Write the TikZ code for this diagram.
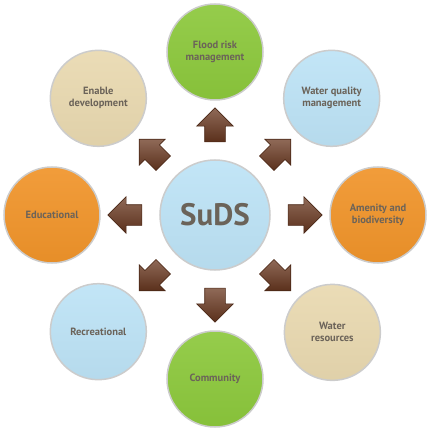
\documentclass[tikz,border=0pt]{standalone}
\usepackage{fontspec}
\setmainfont{PT Sans}
\usetikzlibrary{calc,shapes.arrows}

\definecolor{sudsblue}{HTML}{BDE3F6}
\definecolor{sudsgreen}{HTML}{8CC83C}
\definecolor{sudsorange}{HTML}{F0942A}
\definecolor{sudsbeige}{HTML}{E9D9B0}
\definecolor{sudstext}{HTML}{6B6359}
\definecolor{arrowbrown}{HTML}{6A3820}

\tikzset{
  benefit/.style={circle, minimum size=96pt, inner sep=0pt, align=center,
    draw=gray!40, line width=1.5pt, top color=#1!92!white, bottom color=#1!96!black,
    text=sudstext, font=\bfseries\fontsize{10.5}{12}\selectfont},
  hub/.style={benefit=#1, minimum size=110pt, font=\bfseries\fontsize{31}{31}\selectfont},
  blockarrow/.style={single arrow, draw=arrowbrown!70!black, line width=0.6pt,
    top color=arrowbrown!75!white, bottom color=arrowbrown!85!black,
    text height=20pt, text depth=0pt, text width=0pt, inner sep=0pt,
    minimum height=34pt, single arrow head extend=8pt, single arrow tip angle=90}
}

\begin{document}
\begin{tikzpicture}[x=1pt,y=1pt]

\useasboundingbox (-215,-216) rectangle (216,215);

% centre
\node[hub=sudsblue] (suds) at (0,0) {SuDS};

% benefits
\node[benefit=sudsgreen]  (flood)       at (90:163)  {Flood risk\\management};
\node[benefit=sudsblue]   (quality)     at (45:165)  {Water quality\\management};
\node[benefit=sudsorange] (amenity)     at (0:163)   {Amenity and\\biodiversity};
\node[benefit=sudsbeige]  (resources)   at (-45:166) {Water\\resources};
\node[benefit=sudsgreen]  (community)   at (-90:164) {Community};
\node[benefit=sudsblue]   (recreation)  at (-135:165) {Recreational};
\node[benefit=sudsorange] (education)   at (180:163) {Educational};
\node[benefit=sudsbeige]  (development) at (135:165) {Enable\\development};

% arrows
\node[blockarrow, rotate=90]   (arrN)  at ($(suds)+(90:85)$)   {};
\node[blockarrow, rotate=45]   (arrNE) at ($(suds)+(45:85)$)   {};
\node[blockarrow, rotate=0]    (arrE)  at ($(suds)+(0:85)$)    {};
\node[blockarrow, rotate=-45]  (arrSE) at ($(suds)+(-45:85)$)  {};
\node[blockarrow, rotate=-90]  (arrS)  at ($(suds)+(-90:85)$)  {};
\node[blockarrow, rotate=-135] (arrSW) at ($(suds)+(-135:85)$) {};
\node[blockarrow, rotate=180]  (arrW)  at ($(suds)+(180:85)$)  {};
\node[blockarrow, rotate=135]  (arrNW) at ($(suds)+(135:85)$)  {};

\end{tikzpicture}
\end{document}
